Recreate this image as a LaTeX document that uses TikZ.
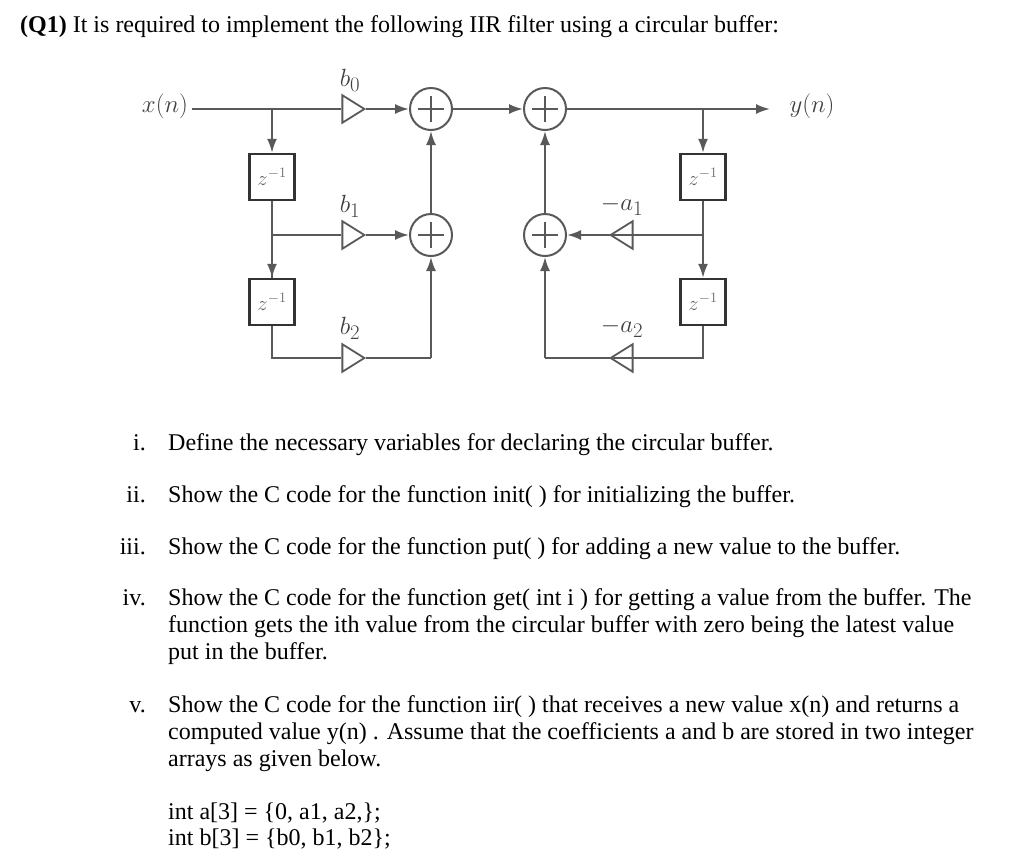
\documentclass[tikz,border=0pt]{standalone}
\usepackage{fontspec}
\setmainfont{Liberation Serif}
\usetikzlibrary{shapes.geometric,arrows.meta}
\begin{document}
\begin{tikzpicture}[x=1pt,y=-1pt,
  wire/.style={draw=black!65,line width=2pt},
  arr/.style={wire,-{Latex[length=14pt,width=10pt]}},
  adder/.style={circle,draw=black!65,line width=2pt,minimum size=42pt,inner sep=0pt,
    path picture={\draw[black!65,line width=1.6pt] ([xshift=-13pt]path picture bounding box.center)--([xshift=13pt]path picture bounding box.center)
      ([yshift=-13pt]path picture bounding box.center)--([yshift=13pt]path picture bounding box.center);}},
  dbox/.style={draw=black!80,line width=2.4pt,minimum width=45pt,minimum height=46pt,inner sep=0pt,font=\fontsize{20}{20}\selectfont,text=black!60},
  gain/.style={isosceles triangle,isosceles triangle apex angle=64,draw=black!65,line width=1.8pt,fill=white,inner sep=0pt,minimum height=22pt,minimum width=24pt},
  lbl/.style={font=\fontsize{28}{28}\selectfont,text=black!75},
  txt/.style={anchor=base west,inner sep=0pt,font=\fontsize{24}{27}\selectfont,align=left},
  num/.style={anchor=base east,inner sep=0pt,font=\fontsize{24}{27}\selectfont}]
\useasboundingbox[fill=white] (0,0) rectangle (1024,855);
% diagram
\node[lbl] (x) at (165,106) {$x(n)$};
\node[lbl] (y) at (812,106) {$y(n)$};
\coordinate (bl) at (272,109);
\coordinate (br) at (703,109);
\coordinate (m1) at (272,235);
\coordinate (m2) at (272,358);
\coordinate (r1) at (703,235);
\coordinate (r2) at (703,358);
\coordinate (e2) at (431,358);
\coordinate (f2) at (545,358);
\node[dbox] (d1) at (272,177) {$z^{-1}$};
\node[dbox] (d2) at (272,302) {$z^{-1}$};
\node[dbox] (d3) at (703,177) {$z^{-1}$};
\node[dbox] (d4) at (703,302) {$z^{-1}$};
\node[adder] (s1) at (431,109) {};
\node[adder] (s2) at (431,235) {};
\node[adder] (s3) at (545,109) {};
\node[adder] (s4) at (545,235) {};
\node[gain] (g0) at (350,109) {};
\node[gain] (g1) at (350,235) {};
\node[gain] (g2) at (350,358) {};
\node[gain,shape border rotate=180] (a1) at (625,235) {};
\node[gain,shape border rotate=180] (a2) at (625,358) {};
\node[lbl] (lb0) at (350,80) {$b_0$};
\node[lbl] (lb1) at (350,206) {$b_1$};
\node[lbl] (lb2) at (350,328) {$b_2$};
\node[lbl] (la1) at (622,206) {$-a_1$};
\node[lbl] (la2) at (622,328) {$-a_2$};
\draw[wire] (x.east |- bl) -- (g0.west);
\draw[arr] (g0.east) -- (s1.west);
\draw[arr] (bl) -- (d1.north);
\draw[wire] (d1.south) -- (m2 |- d2.north);
\draw[arr] (m1) -- (d2.north);
\draw[wire] (m1) -- (g1.west);
\draw[arr] (g1.east) -- (s2.west);
\draw[wire] (d2.south) -- (m2) -- (g2.west);
\draw[wire] (g2.east) -- (e2);
\draw[arr] (e2) -- (s2.south);
\draw[arr] (s2.north) -- (s1.south);
\draw[arr] (s1.east) -- (s3.west);
\draw[arr] (s3.east) -- (770,109);
\draw[arr] (br) -- (d3.north);
\draw[wire] (d3.south) -- (r1);
\draw[arr] (r1) -- (d4.north);
\draw[wire] (r1) -- (a1.west);
\draw[arr] (a1.east) -- (s4.east);
\draw[wire] (d4.south) -- (r2) -- (a2.west);
\draw[wire] (a2.east) -- (f2);
\draw[arr] (f2) -- (s4.south);
\draw[arr] (s4.north) -- (s3.south);
% text
\node[txt] (t0) at (20,32) {\textbf{(Q1)} It is required to implement the following IIR filter using a circular buffer:};
\node[num] (n1) at (146,450) {i.};
\node[txt] (p1) at (168,450) {Define the necessary variables for declaring the circular buffer.};
\node[num] (n2) at (146,502) {ii.};
\node[txt] (p2) at (168,502) {Show the C code for the function init( ) for initializing the buffer.};
\node[num] (n3) at (146,554) {iii.};
\node[txt] (p3) at (168,554) {Show the C code for the function put( ) for adding a new value to the buffer.};
\node[num] (n4) at (146,605) {iv.};
\node[txt] (p4) at (168,659) {Show the C code for the function get( int i ) for getting a value from the buffer. The\\ function gets the ith value from the circular buffer with zero being the latest value\\ put in the buffer.};
\node[num] (n5) at (146,712) {v.};
\node[txt] (p5) at (168,766) {Show the C code for the function iir( ) that receives a new value x(n) and returns a\\ computed value y(n) . Assume that the coefficients a and b are stored in two integer\\ arrays as given below.};
\node[txt] (c1) at (168,819) {int a[3] = \{0, a1, a2,\};};
\node[txt] (c2) at (168,845) {int b[3] = \{b0, b1, b2\};};
\end{tikzpicture}
\end{document}
